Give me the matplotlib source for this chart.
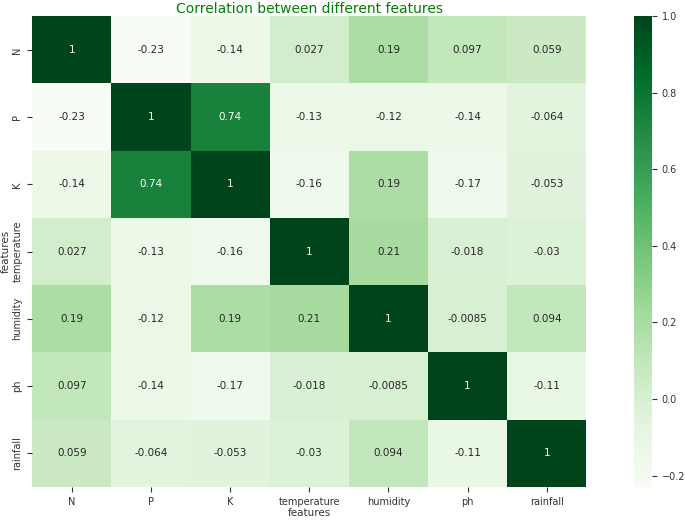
import numpy as np
import pandas as pd
import matplotlib
matplotlib.use("Agg")
import matplotlib.pyplot as plt
import seaborn as sns

features = ["N", "P", "K", "temperature", "humidity", "ph", "rainfall"]
row_N = [1, -0.23, -0.14, 0.027, 0.19, 0.097, 0.059]
row_P = [-0.23, 1, 0.74, -0.13, -0.12, -0.14, -0.064]
row_K = [-0.14, 0.74, 1, -0.16, 0.19, -0.17, -0.053]
row_temperature = [0.027, -0.13, -0.16, 1, 0.21, -0.018, -0.03]
row_humidity = [0.19, -0.12, 0.19, 0.21, 1, -0.0085, 0.094]
row_ph = [0.097, -0.14, -0.17, -0.018, -0.0085, 1, -0.11]
row_rainfall = [0.059, -0.064, -0.053, -0.03, 0.094, -0.11, 1]

corr = pd.DataFrame([row_N, row_P, row_K, row_temperature, row_humidity, row_ph, row_rainfall],
                    index=features, columns=features)

txt = "#333333"
fig = plt.figure(figsize=(6.85, 5.22), dpi=100)
ax = fig.add_axes([0.047, 0.067, 0.809, 0.902])
cax = fig.add_axes([0.926, 0.067, 0.026, 0.902])
sns.heatmap(corr, annot=True, cmap="Greens", ax=ax, cbar_ax=cax,
            annot_kws={"fontsize": 7.5})
ax.set_title("Correlation between different features", color="green", fontsize=10, pad=2)
ax.set_xlabel("features", fontsize=7.5, labelpad=1, color=txt)
ax.set_ylabel("features", fontsize=7.5, labelpad=1, color=txt)
ax.tick_params(labelsize=7, colors=txt)
ax.set_yticklabels(ax.get_yticklabels(), rotation=90, va="center")
cax.tick_params(labelsize=7, colors=txt)
plt.savefig("out.png", dpi=100)
